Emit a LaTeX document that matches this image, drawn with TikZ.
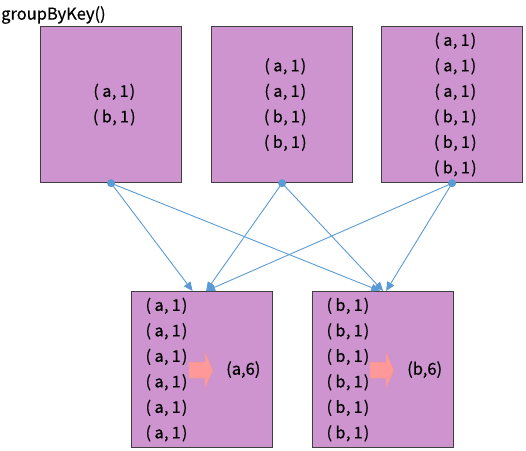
\documentclass[tikz,border=0pt]{standalone}
\usepackage{fontspec}
\setmainfont{Noto Sans CJK SC}
\newfontfamily\boxfont[FakeBold=0.5]{Noto Sans CJK SC}
\usetikzlibrary{arrows.meta,calc}
\definecolor{boxfill}{HTML}{CE94D0}
\definecolor{boxline}{HTML}{3F3F3F}
\definecolor{linkblue}{HTML}{5B9BD5}
\definecolor{pinkarrow}{HTML}{FF9999}
\newcommand\pr[2]{\hspace{0.4em}(\hspace{0.22em}#1\hspace{0.04em},\hspace{0.2em}#2\hspace{0.08em})\hspace{0.4em}}
\begin{document}
\begin{tikzpicture}[x=1pt,y=-1pt,
  box/.style={draw=boxline, line width=1.2pt, fill=boxfill, minimum width=141pt, minimum height=156pt, inner sep=0pt, anchor=north west},
  txt/.style={font=\boxfont\fontsize{16}{25.5}\selectfont, align=center, inner sep=0pt},
  txtl/.style={font=\boxfont\fontsize{16}{25.5}\selectfont, align=left, inner sep=0pt},
  link/.style={draw=linkblue, line width=0.9pt, -{Triangle[length=9pt,width=8pt]}},
  dot/.style={circle, fill=linkblue, inner sep=0pt, minimum size=8pt}]
\useasboundingbox (0,0) rectangle (526,450);
\node[anchor=west, inner sep=0pt, font=\boxfont\fontsize{16.5}{19}\selectfont] (title) at (1,15) {groupByKey()};
\node[box] (b1) at (40,26) {};
\node[box] (b2) at (211,26) {};
\node[box] (b3) at (381,26) {};
\node[box] (ba) at (131,291) {};
\node[box] (bb) at (312,291) {};
\node[txt] (t1) at (b1.center) {\pr a1\\\pr b1};
\node[txt] (t2) at (b2.center) {\pr a1\\\pr a1\\\pr b1\\\pr b1};
\node[txt] (t3) at (b3.center) {\pr a1\\\pr a1\\\pr a1\\\pr b1\\\pr b1\\\pr b1};
\node[txtl, anchor=west] (ta) at ($(ba.west)+(8,0)$) {\pr a1\\\pr a1\\\pr a1\\\pr a1\\\pr a1\\\pr a1};
\node[txtl, anchor=west] (tb) at ($(bb.west)+(8,0)$) {\pr b1\\\pr b1\\\pr b1\\\pr b1\\\pr b1\\\pr b1};
\node[anchor=west, inner sep=0pt, font=\boxfont\fontsize{16.5}{19}\selectfont] (ra) at ($(ba.west)+(95,0)$) {(a,6)};
\node[anchor=west, inner sep=0pt, font=\boxfont\fontsize{16.5}{19}\selectfont] (rb) at ($(bb.west)+(95,0)$) {(b,6)};
\foreach \b in {ba,bb}{
  \fill[pinkarrow, draw=pinkarrow!80!gray, line width=0.4pt]
    ($(\b.west)+(58,-7.5)$) -- ++(16,0) -- ++(0,-10) -- ++(8,18) -- ++(-8,18) -- ++(0,-10) -- ++(-16,0) -- cycle;
}
\coordinate (s1) at (b1.south);
\coordinate (s2) at (b2.south);
\coordinate (s3) at (b3.south);
\coordinate (a1) at ($(ba.north)+(-9.5,0)$);
\coordinate (a2) at ($(ba.north)+(4,0)$);
\coordinate (c1) at ($(bb.north)+(-3,0)$);
\coordinate (c2) at ($(bb.north)+(0,0)$);
\coordinate (c3) at ($(bb.north)+(3,0)$);
\draw[link] (s1) -- (a1);
\draw[link] (s1) -- (c1);
\draw[link] (s2) -- (a2);
\draw[link] (s2) -- (c2);
\draw[link] (s3) -- (a2);
\draw[link] (s3) -- (c3);
\node[dot] (d1) at (s1) {};
\node[dot] (d2) at (s2) {};
\node[dot] (d3) at (s3) {};
\end{tikzpicture}
\end{document}
